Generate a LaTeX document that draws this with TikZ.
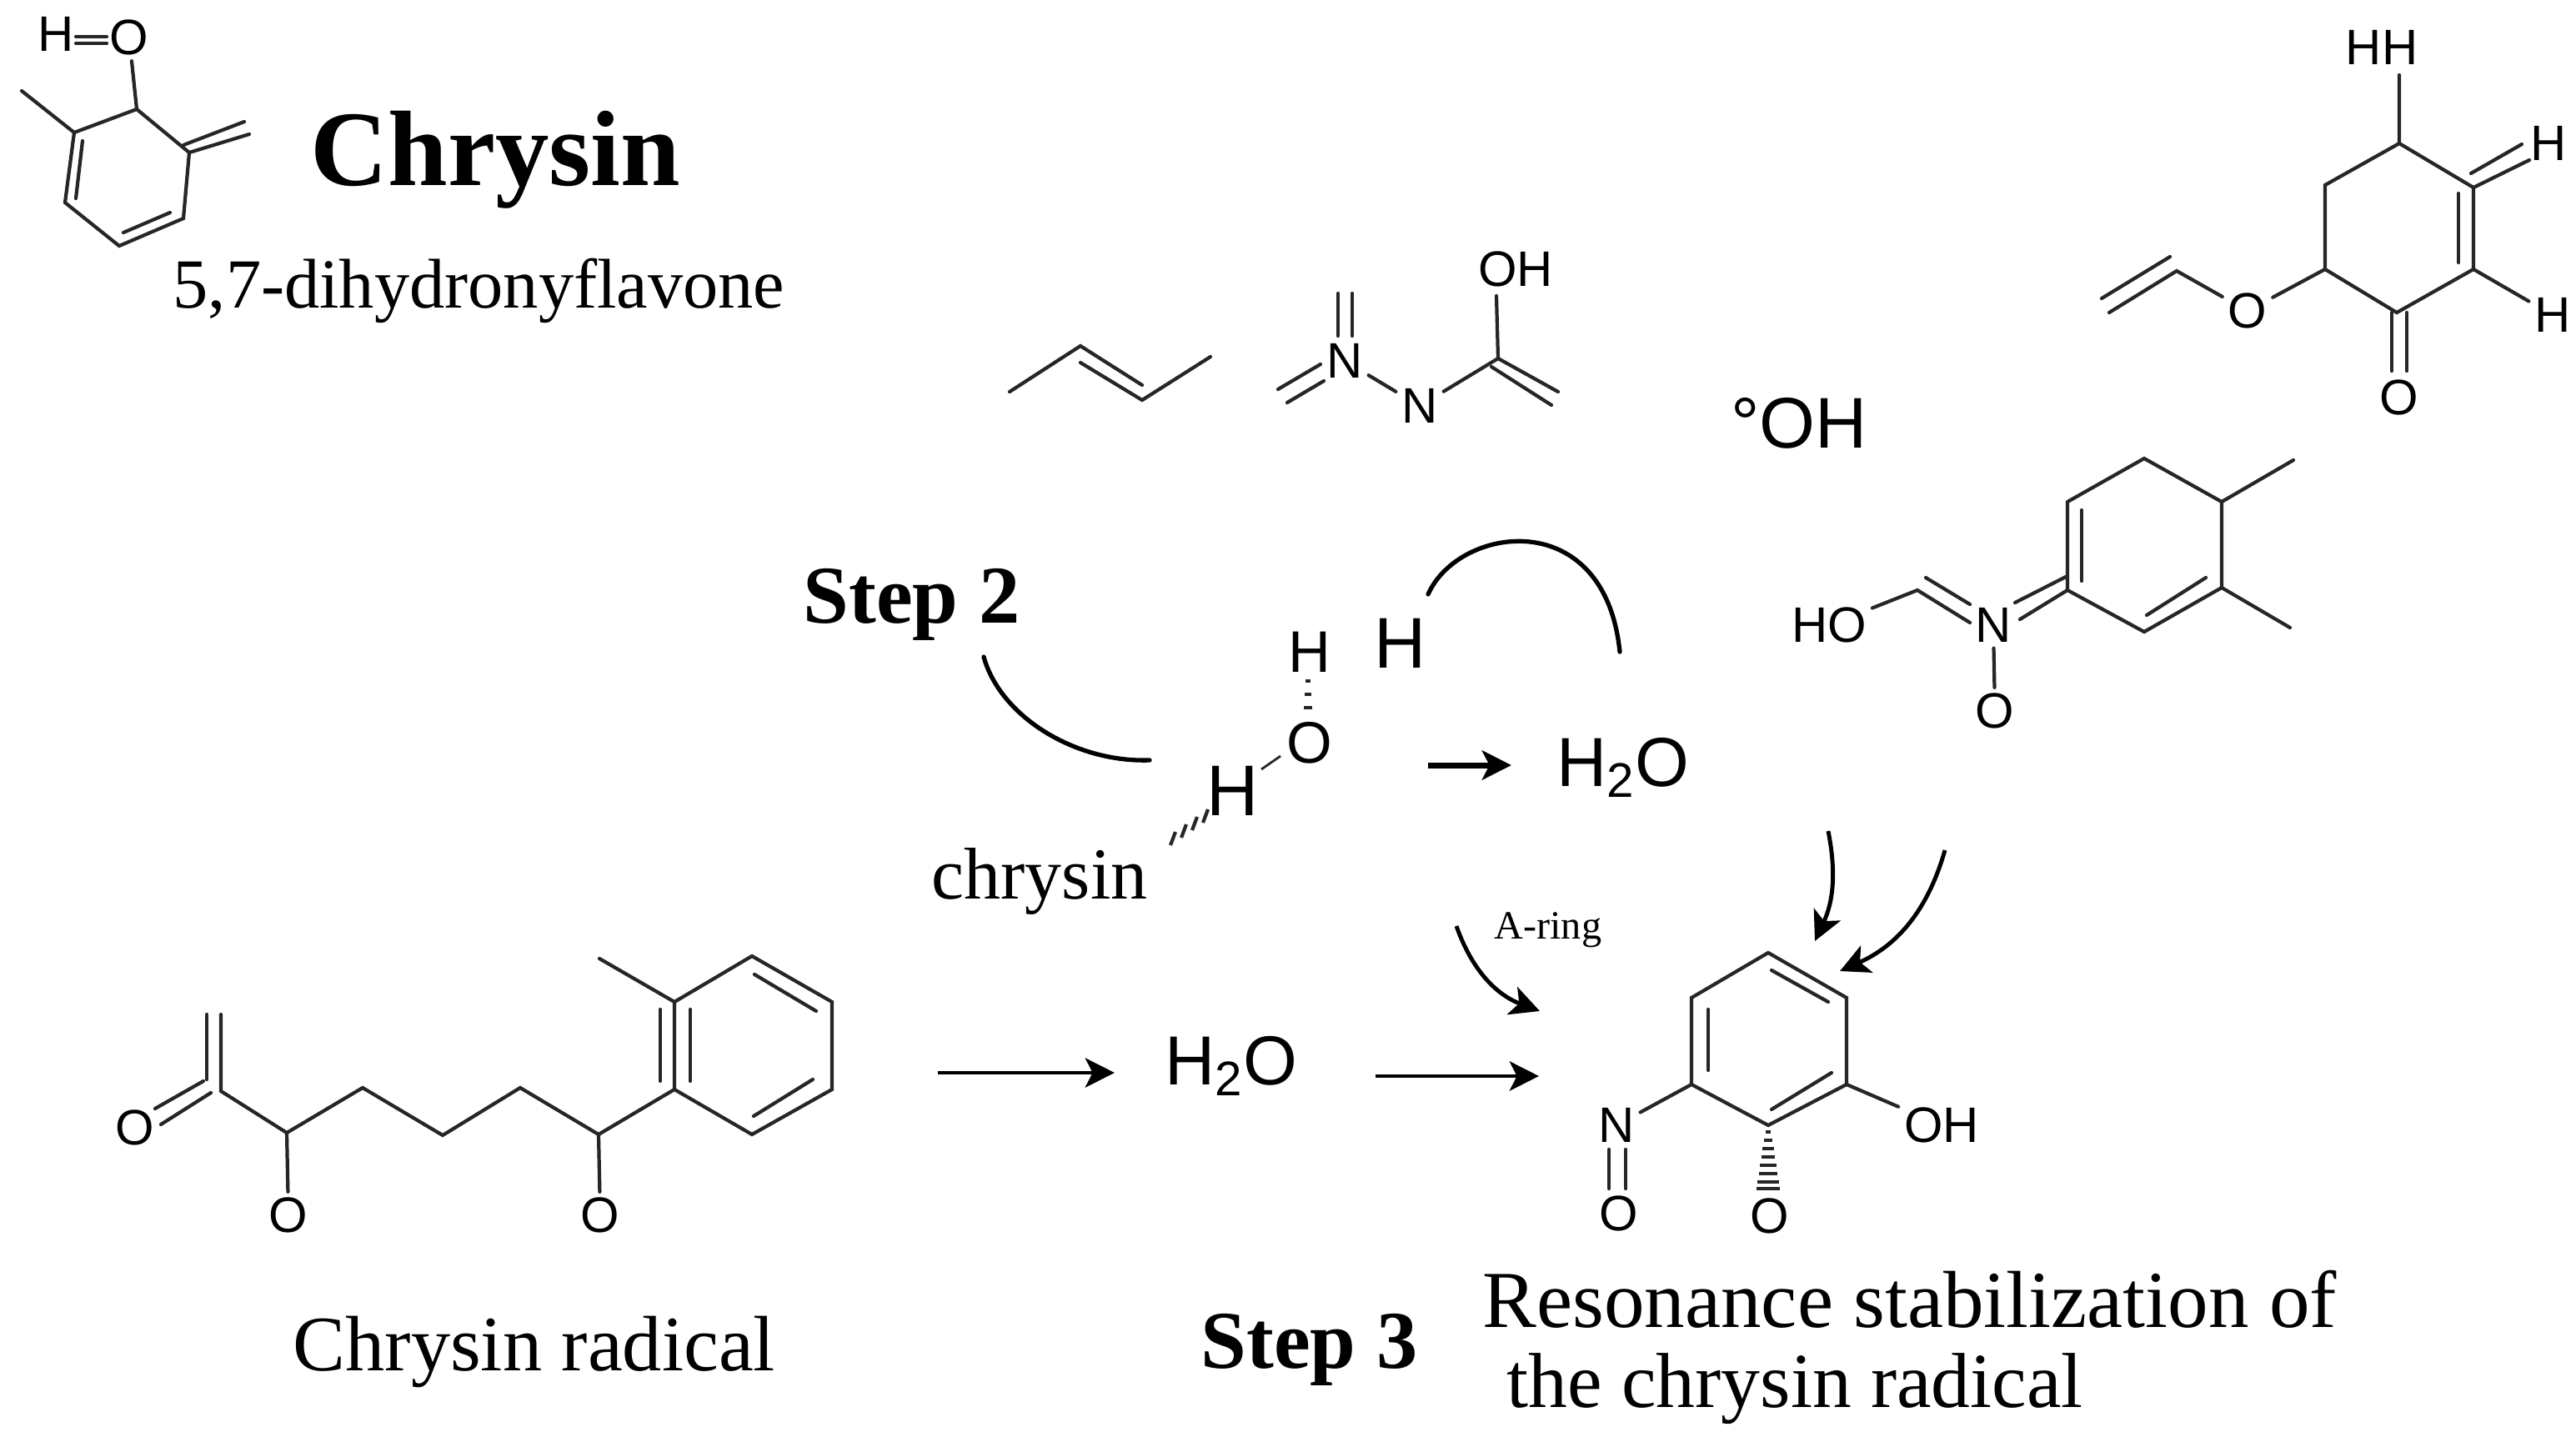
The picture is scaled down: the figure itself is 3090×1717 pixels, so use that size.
\documentclass[tikz,border=0pt]{standalone}
\usepackage{fontspec}
\setmainfont{Liberation Serif}
\setsansfont{Liberation Sans}
\usetikzlibrary{arrows.meta}

\tikzset{
	bond/.style={line width=1.2pt, black!85, line cap=round},
	atom/.style={font=\sffamily\fontsize{17}{17}\selectfont, inner sep=0pt, outer sep=2pt},
	bigatom/.style={font=\sffamily\fontsize{23.7}{23.7}\selectfont, inner sep=0pt, outer sep=2pt, anchor=base west},
	caption/.style={font=\fontsize{#1}{#1}\selectfont, inner sep=0pt, anchor=base west},
	steptext/.style={font=\bfseries\fontsize{28}{28}\selectfont, inner sep=0pt, anchor=base west},
	reaction/.style={line width=1.4pt, ->, >={Stealth[length=10pt,width=10pt,inset=2.5pt]}},
	push/.style={line width=1.5pt, line cap=round},
	hash/.style={line width=1.2pt, black!85}
}

\begin{document}
\begin{tikzpicture}[x=0.01cm, y=-0.01cm]
\useasboundingbox (0,0) rectangle (3090,1717);

% titles
\node[caption=36.6, font=\bfseries\fontsize{36.6}{36.6}\selectfont] (title) at (372,222) {Chrysin};
\node[caption=24] (subtitle) at (207,369) {5,7-dihydronyflavone};
\node[steptext] (steptwo) at (963,747) {Step 2};
\node[steptext] (stepthree) at (1440,1641) {Step 3};
\node[caption=25] (chrysin) at (1117,1078) {chrysin};
\node[caption=26.8] (radical) at (351,1644) {Chrysin radical};
\node[caption=27.6] (resonanceA) at (1778,1592) {Resonance stabilization of};
\node[caption=26.6] (resonanceB) at (1807,1688) {the chrysin radical};
\node[caption=13.7] (aring) at (1792,1126) {A-ring};

% flavone fragment, top left
\node[atom] (f-h) at (67,41) {H};
\node[atom] (f-o) at (155,45) {O};
\coordinate (f1) at (164,131); \coordinate (f2) at (227,183); \coordinate (f3) at (220,262);
\coordinate (f4) at (143,295); \coordinate (f5) at (78,243); \coordinate (f6) at (89,159);
\coordinate (f7) at (26,109); \coordinate (f8) at (299,161); \coordinate (f9) at (220,174);
\coordinate (f10) at (293,146); \coordinate (f11) at (99,169); \coordinate (f12) at (91,238);
\coordinate (f13) at (148,279); \coordinate (f14) at (204,255);
\coordinate (f15) at (91,44); \coordinate (f16) at (128,44); \coordinate (f17) at (91,52); \coordinate (f18) at (128,52);
\draw[bond] (f-o) -- (f1) -- (f2) -- (f3) -- (f4) -- (f5) -- (f6) -- (f1);
\draw[bond] (f6) -- (f7);
\draw[bond] (f2) -- (f8);
\draw[bond] (f9) -- (f10);
\draw[bond] (f11) -- (f12);
\draw[bond] (f13) -- (f14);
\draw[bond] (f15) -- (f16);
\draw[bond] (f17) -- (f18);

% butene
\coordinate (b1) at (1211,470); \coordinate (b2) at (1296,415); \coordinate (b3) at (1370,480);
\coordinate (b4) at (1452,428); \coordinate (b5) at (1296,435); \coordinate (b6) at (1370,462);
\draw[bond] (b1) -- (b2) -- (b6);
\draw[bond] (b5) -- (b3) -- (b4);

% diazo fragment
\node[atom] (d-n1) at (1613,433) {N};
\node[atom] (d-n2) at (1703,487) {N};
\node[atom] (d-oh) at (1818,323) {OH};
\coordinate (d1) at (1797,430); \coordinate (d2) at (1869,470); \coordinate (d3) at (1789,440); \coordinate (d4) at (1861,486);
\coordinate (d5) at (1605,352); \coordinate (d6) at (1605,403); \coordinate (d7) at (1622,352); \coordinate (d8) at (1622,403);
\coordinate (d9) at (1533,467); \coordinate (d10) at (1584,437); \coordinate (d11) at (1544,483); \coordinate (d12) at (1588,457);
\coordinate (d13) at (1795,355);
\draw[bond] (d-n1) -- (d-n2) -- (d1) -- (d13);
\draw[bond] (d1) -- (d2);
\draw[bond] (d3) -- (d4);
\draw[bond] (d5) -- (d6);
\draw[bond] (d7) -- (d8);
\draw[bond] (d9) -- (d10);
\draw[bond] (d11) -- (d12);

% hydroxyl radical
\node[bigatom, font=\sffamily\fontsize{24.5}{24.5}\selectfont] (radicalOH) at (2069,537) {°OH};

% top right ring
\node[atom] (p-hh) at (2857,57) {HH};
\node[atom] (p-h1) at (3057,172) {H};
\node[atom] (p-h2) at (3062,378) {H};
\node[atom] (p-o1) at (2878,477) {O};
\node[atom] (p-o2) at (2696,373) {O};
\coordinate (p1) at (2878,172); \coordinate (p2) at (2967,225); \coordinate (p3) at (2967,323);
\coordinate (p4) at (2875,375); \coordinate (p5) at (2789,323); \coordinate (p6) at (2789,222);
\coordinate (p7) at (2878,90); \coordinate (p8) at (2949,232); \coordinate (p9) at (2949,315);
\coordinate (p10) at (3034,192); \coordinate (p11) at (2964,208); \coordinate (p12) at (3025,173);
\coordinate (p13) at (2869,375); \coordinate (p14) at (2869,445); \coordinate (p15) at (2887,375); \coordinate (p16) at (2887,445);
\coordinate (p17) at (2611,325); \coordinate (p18) at (2530,375); \coordinate (p19) at (2603,308); \coordinate (p20) at (2521,358);
\draw[bond] (p7) -- (p1) -- (p2) -- (p3) -- (p4) -- (p5) -- (p6) -- (p1);
\draw[bond] (p8) -- (p9);
\draw[bond] (p2) -- (p10);
\draw[bond] (p11) -- (p12);
\draw[bond] (p3) -- (p-h2);
\draw[bond] (p13) -- (p14);
\draw[bond] (p15) -- (p16);
\draw[bond] (p5) -- (p-o2) -- (p17) -- (p18);
\draw[bond] (p19) -- (p20);

% right middle ring
\node[atom] (q-n) at (2391,750) {N};
\node[atom] (q-ho) at (2194,750) {HO};
\node[atom] (q-o) at (2393,853) {O};
\coordinate (q1) at (2480,602); \coordinate (q2) at (2572,550); \coordinate (q3) at (2665,602);
\coordinate (q4) at (2665,705); \coordinate (q5) at (2572,758); \coordinate (q6) at (2480,708);
\coordinate (q7) at (2751,552); \coordinate (q8) at (2747,753);
\coordinate (q9) at (2497,612); \coordinate (q10) at (2497,697); \coordinate (q11) at (2646,693); \coordinate (q12) at (2575,738);
\coordinate (q13) at (2423,743); \coordinate (q14) at (2478,692); \coordinate (q15) at (2417,723);
\coordinate (q16) at (2300,708); \coordinate (q17) at (2363,747); \coordinate (q18) at (2310,693); \coordinate (q19) at (2363,725);
\draw[bond] (q1) -- (q2) -- (q3) -- (q4) -- (q5) -- (q6) -- (q1);
\draw[bond] (q3) -- (q7);
\draw[bond] (q4) -- (q8);
\draw[bond] (q9) -- (q10);
\draw[bond] (q11) -- (q12);
\draw[bond] (q6) -- (q13);
\draw[bond] (q14) -- (q15);
\draw[bond] (q-ho) -- (q16) -- (q17);
\draw[bond] (q18) -- (q19);
\draw[bond] (q-n) -- (q-o);

% step 2 centre
\node[atom, font=\sffamily\fontsize{20}{20}\selectfont] (w-o) at (1571,891) {O};
\node[atom, font=\sffamily\fontsize{20}{20}\selectfont] (w-h) at (1571,782) {H};
\node[atom, font=\sffamily\fontsize{24.5}{24.5}\selectfont] (w-h2) at (1479,949) {H};
\node[atom, font=\sffamily\fontsize{24.5}{24.5}\selectfont] (w-h3) at (1680,772) {H};
\node[bigatom] (waterA) at (1860,943) {H\textsubscript{2}O};
\node[bigatom] (waterB) at (1390,1301) {H\textsubscript{2}O};
\coordinate (w1) at (1513,923); \coordinate (w2) at (1536,907);
\coordinate (w3) at (1569,817); \coordinate (w4) at (1407,1006);
\draw[line width=.8pt, black!85] (w1) -- (w2);
\foreach \i/\w in {0/3, 16/4, 32/5}
	\draw[hash] ([shift={(-\w,\i)}]w3) -- ([shift={(\w,\i)}]w3);
\foreach \i in {0,1,2,3}
	\draw[hash] ([shift={(13*\i-3,-9*\i+8)}]w4) -- ([shift={(13*\i+3,-9*\i-8)}]w4);
\coordinate (arcA1) at (1180,788); \coordinate (arcA2) at (1379,912);
\coordinate (arcB1) at (1713,713); \coordinate (arcB2) at (1943,782);
\draw[push] (arcA1) .. controls (1200,860) and (1290,915) .. (arcA2);
\draw[push] (arcB1) .. controls (1750,630) and (1925,605) .. (arcB2);

% reaction arrows
\coordinate (ar1) at (1713,918); \coordinate (ar2) at (1813,918);
\coordinate (ar3) at (1125,1287); \coordinate (ar4) at (1337,1287);
\coordinate (ar5) at (1650,1291); \coordinate (ar6) at (1846,1291);
\coordinate (ar7) at (1747,1111); \coordinate (ar8) at (1847,1213);
\coordinate (ar9) at (2193,997); \coordinate (ar10) at (2177,1129);
\coordinate (ar11) at (2333,1020); \coordinate (ar12) at (2207,1165);
\draw[reaction, line width=2pt] (ar1) -- (ar2);
\draw[reaction] (ar3) -- (ar4);
\draw[reaction] (ar5) -- (ar6);
\draw[reaction] (ar7) to[bend right=25] (ar8);
\draw[reaction] (ar9) to[bend left=18] (ar10);
\draw[reaction] (ar11) to[bend left=25] (ar12);

% chrysin radical
\node[atom] (c-o1) at (162,1353) {O};
\node[atom] (c-o2) at (346,1458) {O};
\node[atom] (c-o3) at (720,1458) {O};
\coordinate (c0) at (265,1309); \coordinate (c1) at (344,1359); \coordinate (c2) at (435,1305);
\coordinate (c3) at (531,1362); \coordinate (c4) at (624,1305); \coordinate (c5) at (718,1361);
\coordinate (r1) at (809,1307); \coordinate (r2) at (809,1202); \coordinate (r3) at (902,1147);
\coordinate (r4) at (998,1202); \coordinate (r5) at (998,1307); \coordinate (r6) at (902,1361);
\coordinate (c6) at (265,1217); \coordinate (c7) at (248,1217); \coordinate (c8) at (248,1295);
\coordinate (c9) at (253,1311); \coordinate (c10) at (193,1349); \coordinate (c11) at (244,1297); \coordinate (c12) at (186,1330);
\coordinate (r7) at (719,1150); \coordinate (r8) at (792,1211); \coordinate (r9) at (792,1297);
\coordinate (r10) at (828,1211); \coordinate (r11) at (828,1297);
\coordinate (r12) at (905,1169); \coordinate (r13) at (979,1213); \coordinate (r14) at (975,1295); \coordinate (r15) at (904,1339);
\draw[bond] (c6) -- (c0) -- (c1) -- (c2) -- (c3) -- (c4) -- (c5) -- (r1) -- (r2) -- (r3) -- (r4) -- (r5) -- (r6) -- (r1);
\draw[bond] (c7) -- (c8);
\draw[bond] (c9) -- (c10);
\draw[bond] (c11) -- (c12);
\draw[bond] (c1) -- (c-o2);
\draw[bond] (c5) -- (c-o3);
\draw[bond] (r2) -- (r7);
\draw[bond] (r8) -- (r9);
\draw[bond] (r10) -- (r11);
\draw[bond] (r12) -- (r13);
\draw[bond] (r14) -- (r15);

% resonance product
\node[atom] (t-oh) at (2329,1350) {OH};
\node[atom] (t-n) at (1939,1350) {N};
\node[atom] (t-o1) at (1942,1456) {O};
\node[atom] (t-o2) at (2123,1459) {O};
\coordinate (t1) at (2121,1143); \coordinate (t2) at (2215,1197); \coordinate (t3) at (2215,1301);
\coordinate (t4) at (2121,1350); \coordinate (t5) at (2029,1301); \coordinate (t6) at (2029,1197);
\coordinate (t7) at (2125,1164); \coordinate (t8) at (2193,1202); \coordinate (t9) at (2197,1287); \coordinate (t10) at (2125,1331);
\coordinate (t11) at (2049,1211); \coordinate (t12) at (2049,1284);
\coordinate (t13) at (1930,1379); \coordinate (t14) at (1930,1426); \coordinate (t15) at (1950,1379); \coordinate (t16) at (1950,1426);
\draw[bond] (t1) -- (t2) -- (t3) -- (t4) -- (t5) -- (t6) -- (t1);
\draw[bond] (t7) -- (t8);
\draw[bond] (t9) -- (t10);
\draw[bond] (t11) -- (t12);
\draw[bond] (t3) -- (t-oh);
\draw[bond] (t5) -- (t-n);
\draw[bond] (t13) -- (t14);
\draw[bond] (t15) -- (t16);
\foreach \i/\w in {8/3, 18/5, 28/7, 38/8, 48/10, 58/11, 68/13, 76/14}
	\draw[hash] ([shift={(-\w,\i)}]t4) -- ([shift={(\w,\i)}]t4);
\end{tikzpicture}
\end{document}
